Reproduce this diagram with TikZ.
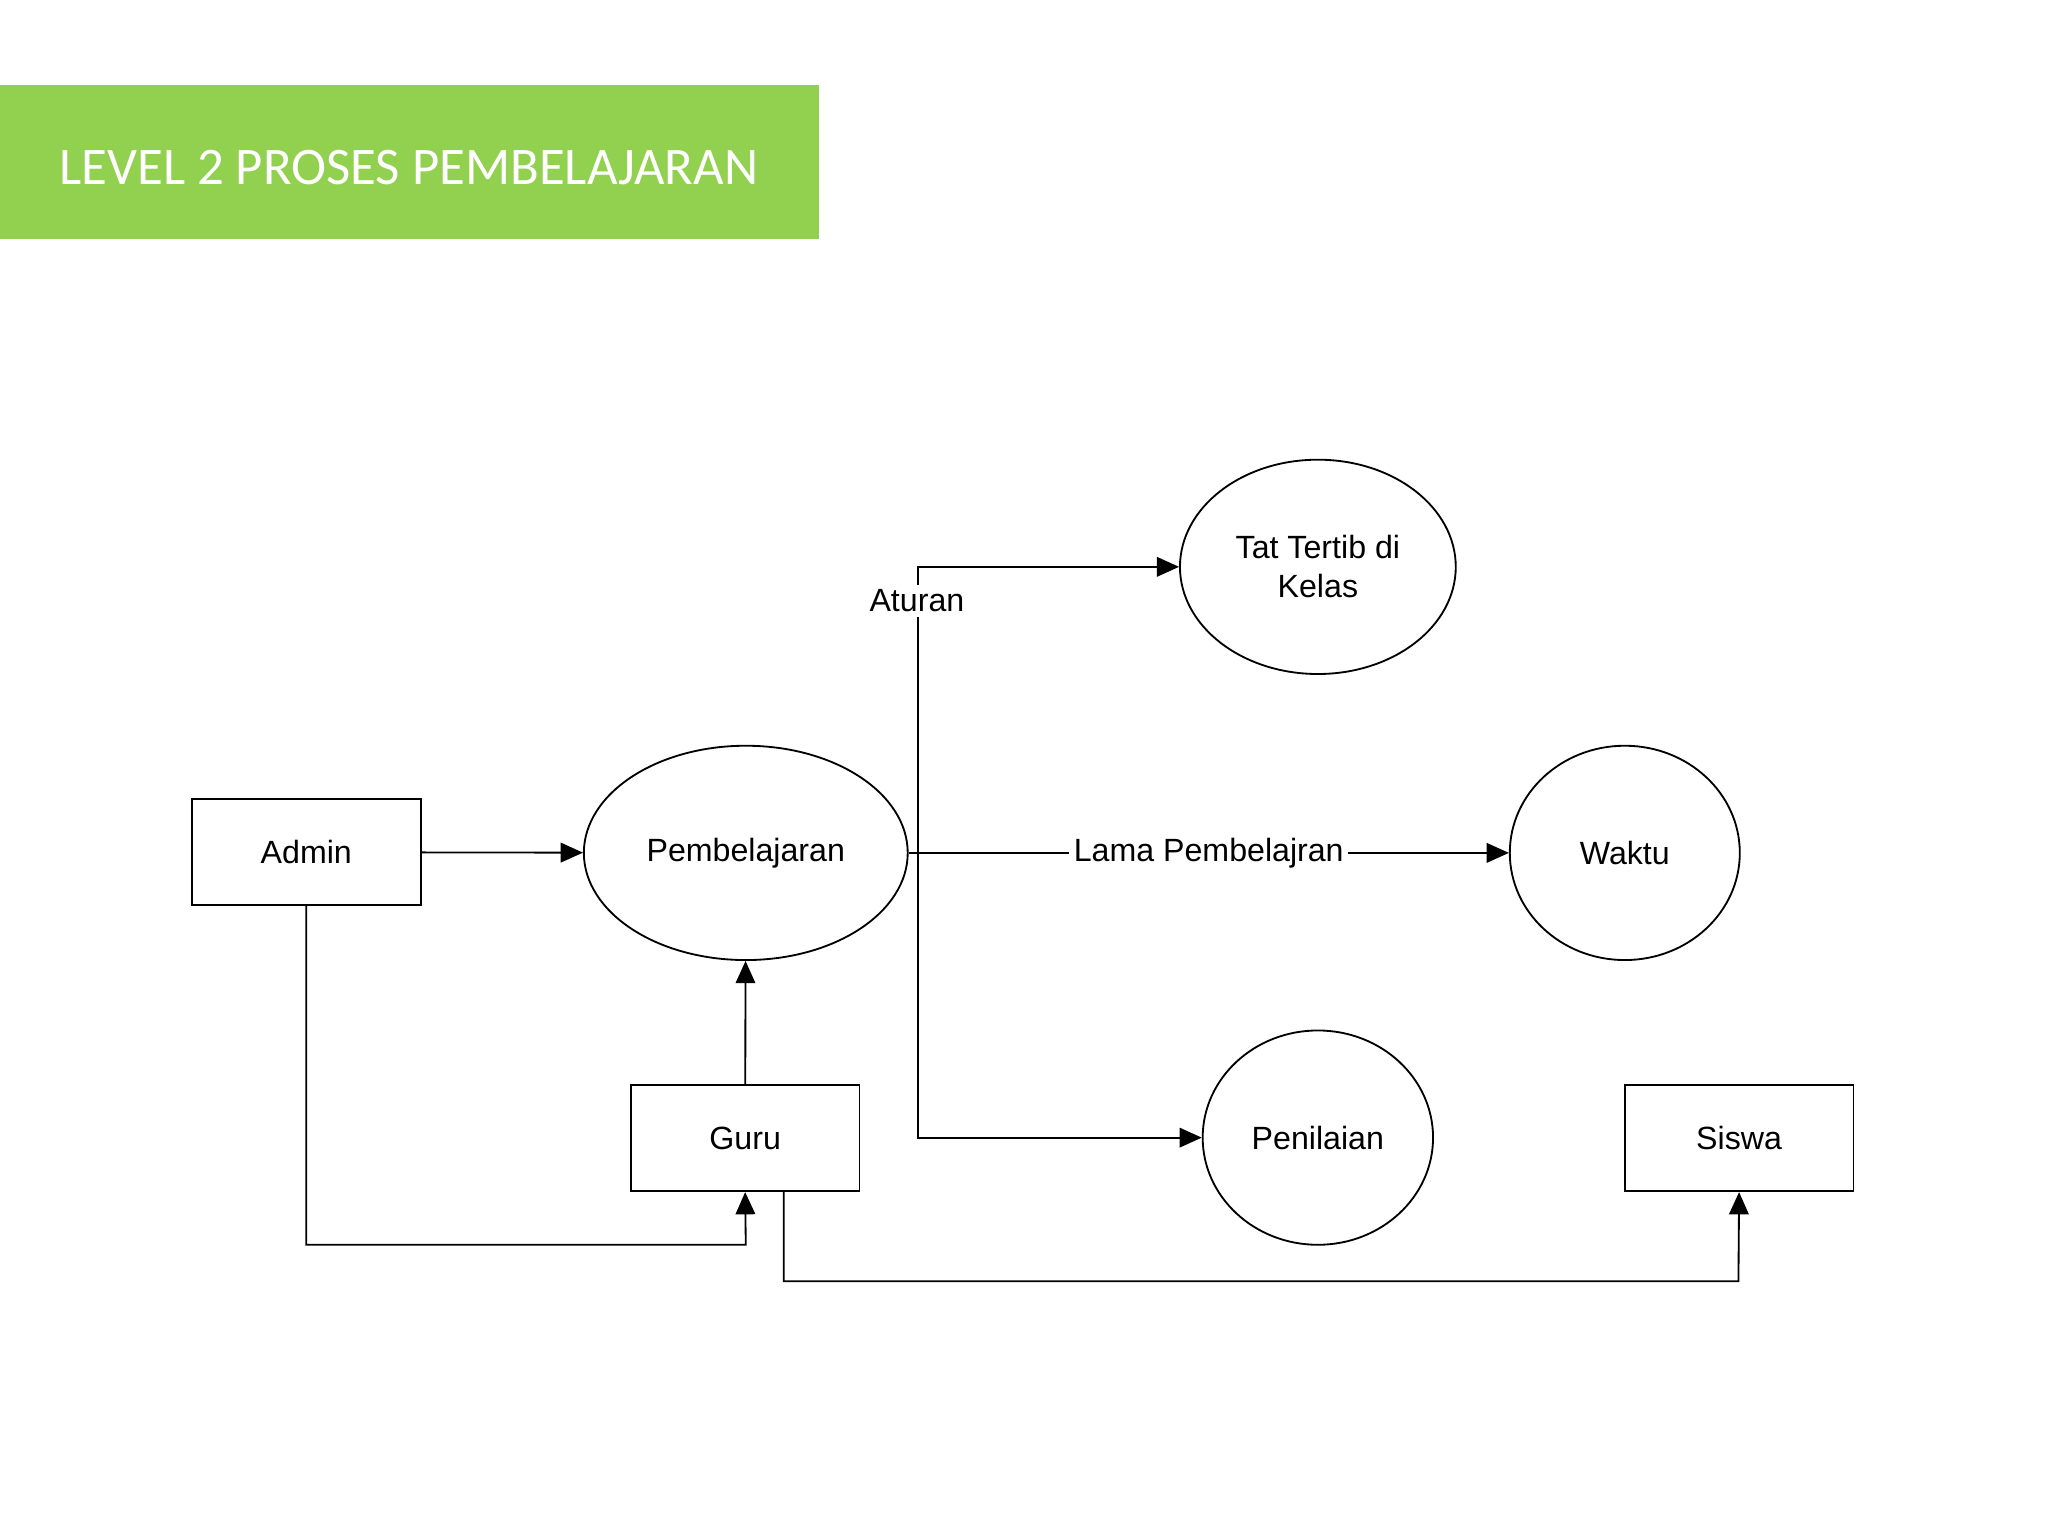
\documentclass[tikz,border=0pt]{standalone}
\usepackage{fontspec}
\setmainfont{Liberation Sans}
\newfontfamily\titlefont{Carlito}
\usetikzlibrary{arrows.meta,shapes.geometric}
\begin{document}
\begin{tikzpicture}[x=0.01cm,y=-0.01cm,
  box/.style={draw,line width=0.4pt,minimum width=1.75cm,minimum height=0.81cm,font=\fontsize{7}{8.5}\selectfont},
  proc/.style={draw,ellipse,line width=0.4pt,minimum width=1.76cm,minimum height=1.64cm,align=center,font=\fontsize{7}{8.5}\selectfont},
  flow/.style={line width=0.4pt,-{Triangle[length=0.17cm,width=0.15cm]}},
  lbl/.style={fill=white,inner sep=1pt,font=\fontsize{7}{8.5}\selectfont}]
\useasboundingbox (0,0) rectangle (1568,1176);
% title banner
\fill[fill={rgb,255:red,146;green,208;blue,80}] (0,65) rectangle (627,183);
\node[text=white,font=\titlefont\fontsize{11.5}{13}\selectfont] (title) at (313,128) {LEVEL 2 PROSES PEMBELAJARAN};
% nodes
\node[box] (admin) at (234.5,652.5) {Admin};
\node[box] (guru) at (570.5,871.5) {Guru};
\node[box] (siswa) at (1331.5,871.5) {Siswa};
\node[proc] (pemb) at (571,653) {Pembelajaran};
\node[proc] (tata) at (1009,434) {Tat Tertib di\\Kelas};
\node[proc] (waktu) at (1244,653) {Waktu};
\node[proc] (nilai) at (1009,871) {Penilaian};
\coordinate (br) at (703,653);
% edges
\draw[flow] (admin) -- (pemb);
\draw[flow] (guru) -- (pemb);
\draw[flow] (admin.south) |- (571,953) -- (guru.south);
\draw[flow] (600,912) |- (1331,981) -- (siswa.south);
\draw[flow] (pemb) -- node[lbl] {Lama Pembelajran} (waktu);
\draw[flow] (br) |- (tata);
\draw[flow] (br) |- (nilai);
\node[lbl] (aturan) at (702,460) {Aturan};
\end{tikzpicture}
\end{document}
